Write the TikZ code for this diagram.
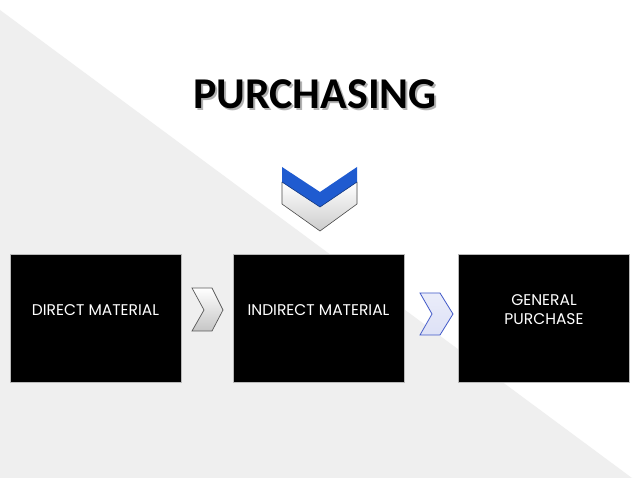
\documentclass[tikz,border=0pt]{standalone}
\usepackage{fontspec}
\setmainfont{Carlito}
\newfontfamily\boxfont{Poppins}
\usetikzlibrary{positioning}
\definecolor{bgtri}{HTML}{EFEFEF}
\definecolor{chevblue}{HTML}{1F5BD0}
\definecolor{chevgrey}{HTML}{D8D8D8}
\definecolor{lav}{HTML}{DDE1F6}
\definecolor{lavedge}{HTML}{4058C8}
\tikzset{
  blackbox/.style={fill=black, draw=gray!55, line width=0.8pt, minimum width=171, minimum height=128,
    inner sep=0pt},
  boxtxt/.style={text=white, font=\boxfont\fontsize{15.5}{19}\selectfont, align=center, yshift=8pt},
  chevgr/.style={draw=gray!70!black, line width=0.7pt, top color=white, bottom color=gray!45, line join=miter},
  chevlav/.style={draw=lavedge, line width=0.8pt, top color=lav!60, bottom color=lav, line join=miter},
}
\begin{document}
\begin{tikzpicture}[x=1pt,y=-1pt]
\useasboundingbox (0,0) rectangle (638,478);
\fill[white] (0,0) rectangle (638,478);
\fill[bgtri] (0,10) -- (632,478) -- (0,478) -- cycle;
% title
\node[font=\bfseries\fontsize{44}{50}\selectfont, text=black] (title) at (315,95)
  {\makebox[0pt][l]{\hspace{2pt}\raisebox{-2pt}{\color{gray!60}PURCHASING}}PURCHASING};
% down chevron
\fill[chevgrey, top color=white, bottom color=gray!40] (282,182) -- (320,207) -- (357,182) -- (357,204) -- (320,231) -- (282,204) -- cycle;
\draw[gray!60!black, line width=0.6pt] (282,182) -- (282,204) -- (320,231) -- (357,204) -- (357,182);
\fill[chevblue] (282,167) -- (320,192) -- (357,167) -- (357,182) -- (320,207) -- (282,182) -- cycle;
\draw[chevblue!60!black, line width=0.6pt] (282,182) -- (320,207) -- (357,182);
% boxes
\node[blackbox, label={[boxtxt]center:DIRECT MATERIAL}] (b1) at (95.5,318) {};
\node[blackbox, label={[boxtxt]center:INDIRECT MATERIAL}] (b2) at (318.5,318) {};
\node[blackbox, label={[boxtxt]center:GENERAL\\PURCHASE}] (b3) at (544,318) {};
% side chevrons
\draw[chevgr] (192,288) -- (212,288) -- (223,310) -- (212,331) -- (192,331) -- (204,310) -- cycle;
\draw[chevlav] (420,293) -- (440,293) -- (453,314) -- (440,335) -- (420,335) -- (432,314) -- cycle;
\end{tikzpicture}
\end{document}
